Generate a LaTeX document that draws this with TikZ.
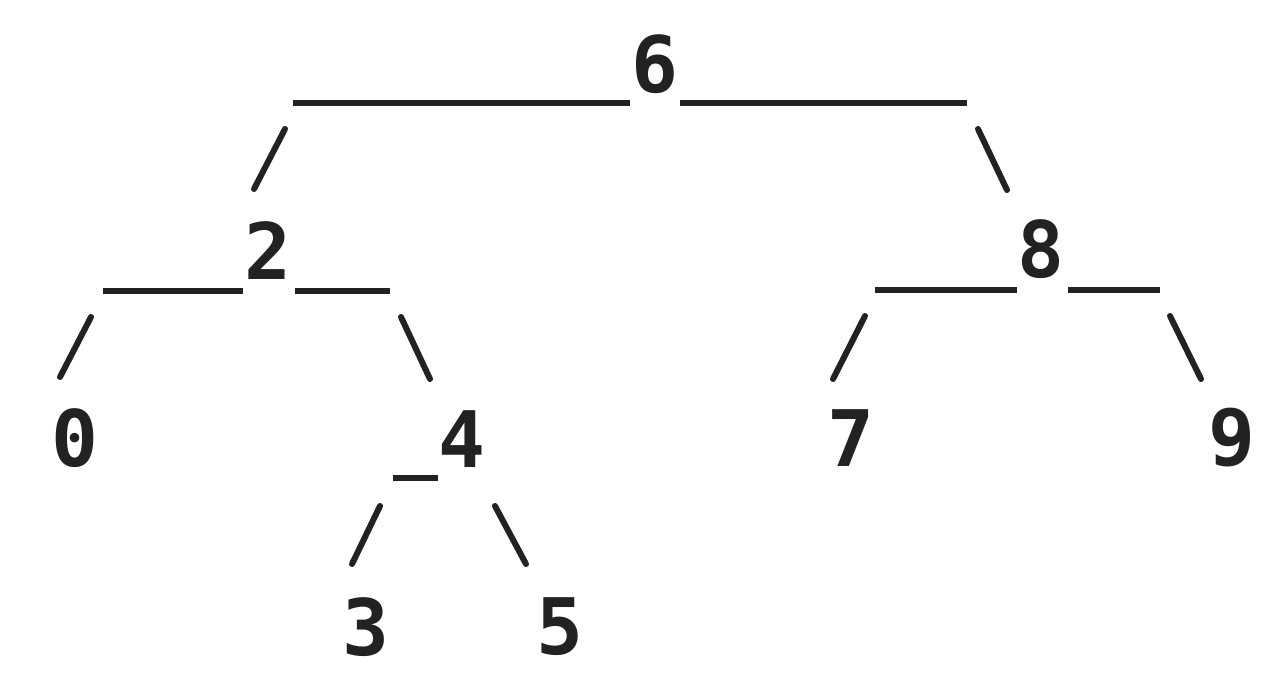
\documentclass[tikz,border=0pt]{standalone}
\usepackage{fontspec}
\newfontfamily\treefont{DejaVu Sans Mono}[BoldFont={* Bold}]
\begin{document}
\begin{tikzpicture}[x=1pt,y=-1pt,
  digit/.style={inner sep=0pt,font=\treefont\bfseries\fontsize{78}{80}\selectfont,text=ink},
  bar/.style={line width=6pt,draw=ink},
  slash/.style={line width=6pt,draw=ink,line cap=round}]
\definecolor{ink}{HTML}{222222}
\useasboundingbox[fill=white] (0,0) rectangle (1280,677);
% values
\node[digit] (n6) at (655,64) {6};
\node[digit] (n2) at (268,251) {2};
\node[digit] (n8) at (1041,249) {8};
\node[digit] (n0) at (75,438) {0};
\node[digit] (n4) at (462,439) {4};
\node[digit] (n7) at (851,438) {7};
\node[digit] (n9) at (1232,438) {9};
\node[digit] (n3) at (366,627) {3};
\node[digit] (n5) at (560,627) {5};
% horizontal underscores
\coordinate (h6l) at (293,103);
\coordinate (h6r) at (967,103);
\coordinate (h2l) at (103,291);
\coordinate (h2r) at (390,291);
\coordinate (h8l) at (875,290);
\coordinate (h8r) at (1160,290);
\coordinate (h4l) at (393,478);
\draw[bar] (h6l) -- (630,103);
\draw[bar] (680,103) -- (h6r);
\draw[bar] (h2l) -- (243,291);
\draw[bar] (295,291) -- (h2r);
\draw[bar] (h8l) -- (1017,290);
\draw[bar] (1068,290) -- (h8r);
\draw[bar] (h4l) -- (438,478);
% slashes
\coordinate (s62a) at (285,129); \coordinate (s62b) at (254,189);
\coordinate (s68a) at (978,129); \coordinate (s68b) at (1007,190);
\coordinate (s20a) at (91,317);  \coordinate (s20b) at (60,377);
\coordinate (s24a) at (401,317); \coordinate (s24b) at (430,379);
\coordinate (s87a) at (865,316); \coordinate (s87b) at (833,379);
\coordinate (s89a) at (1170,316); \coordinate (s89b) at (1201,379);
\coordinate (s43a) at (380,506); \coordinate (s43b) at (352,564);
\coordinate (s45a) at (495,506); \coordinate (s45b) at (526,564);
\draw[slash] (s62a) -- (s62b);
\draw[slash] (s68a) -- (s68b);
\draw[slash] (s20a) -- (s20b);
\draw[slash] (s24a) -- (s24b);
\draw[slash] (s87a) -- (s87b);
\draw[slash] (s89a) -- (s89b);
\draw[slash] (s43a) -- (s43b);
\draw[slash] (s45a) -- (s45b);
\end{tikzpicture}
\end{document}
